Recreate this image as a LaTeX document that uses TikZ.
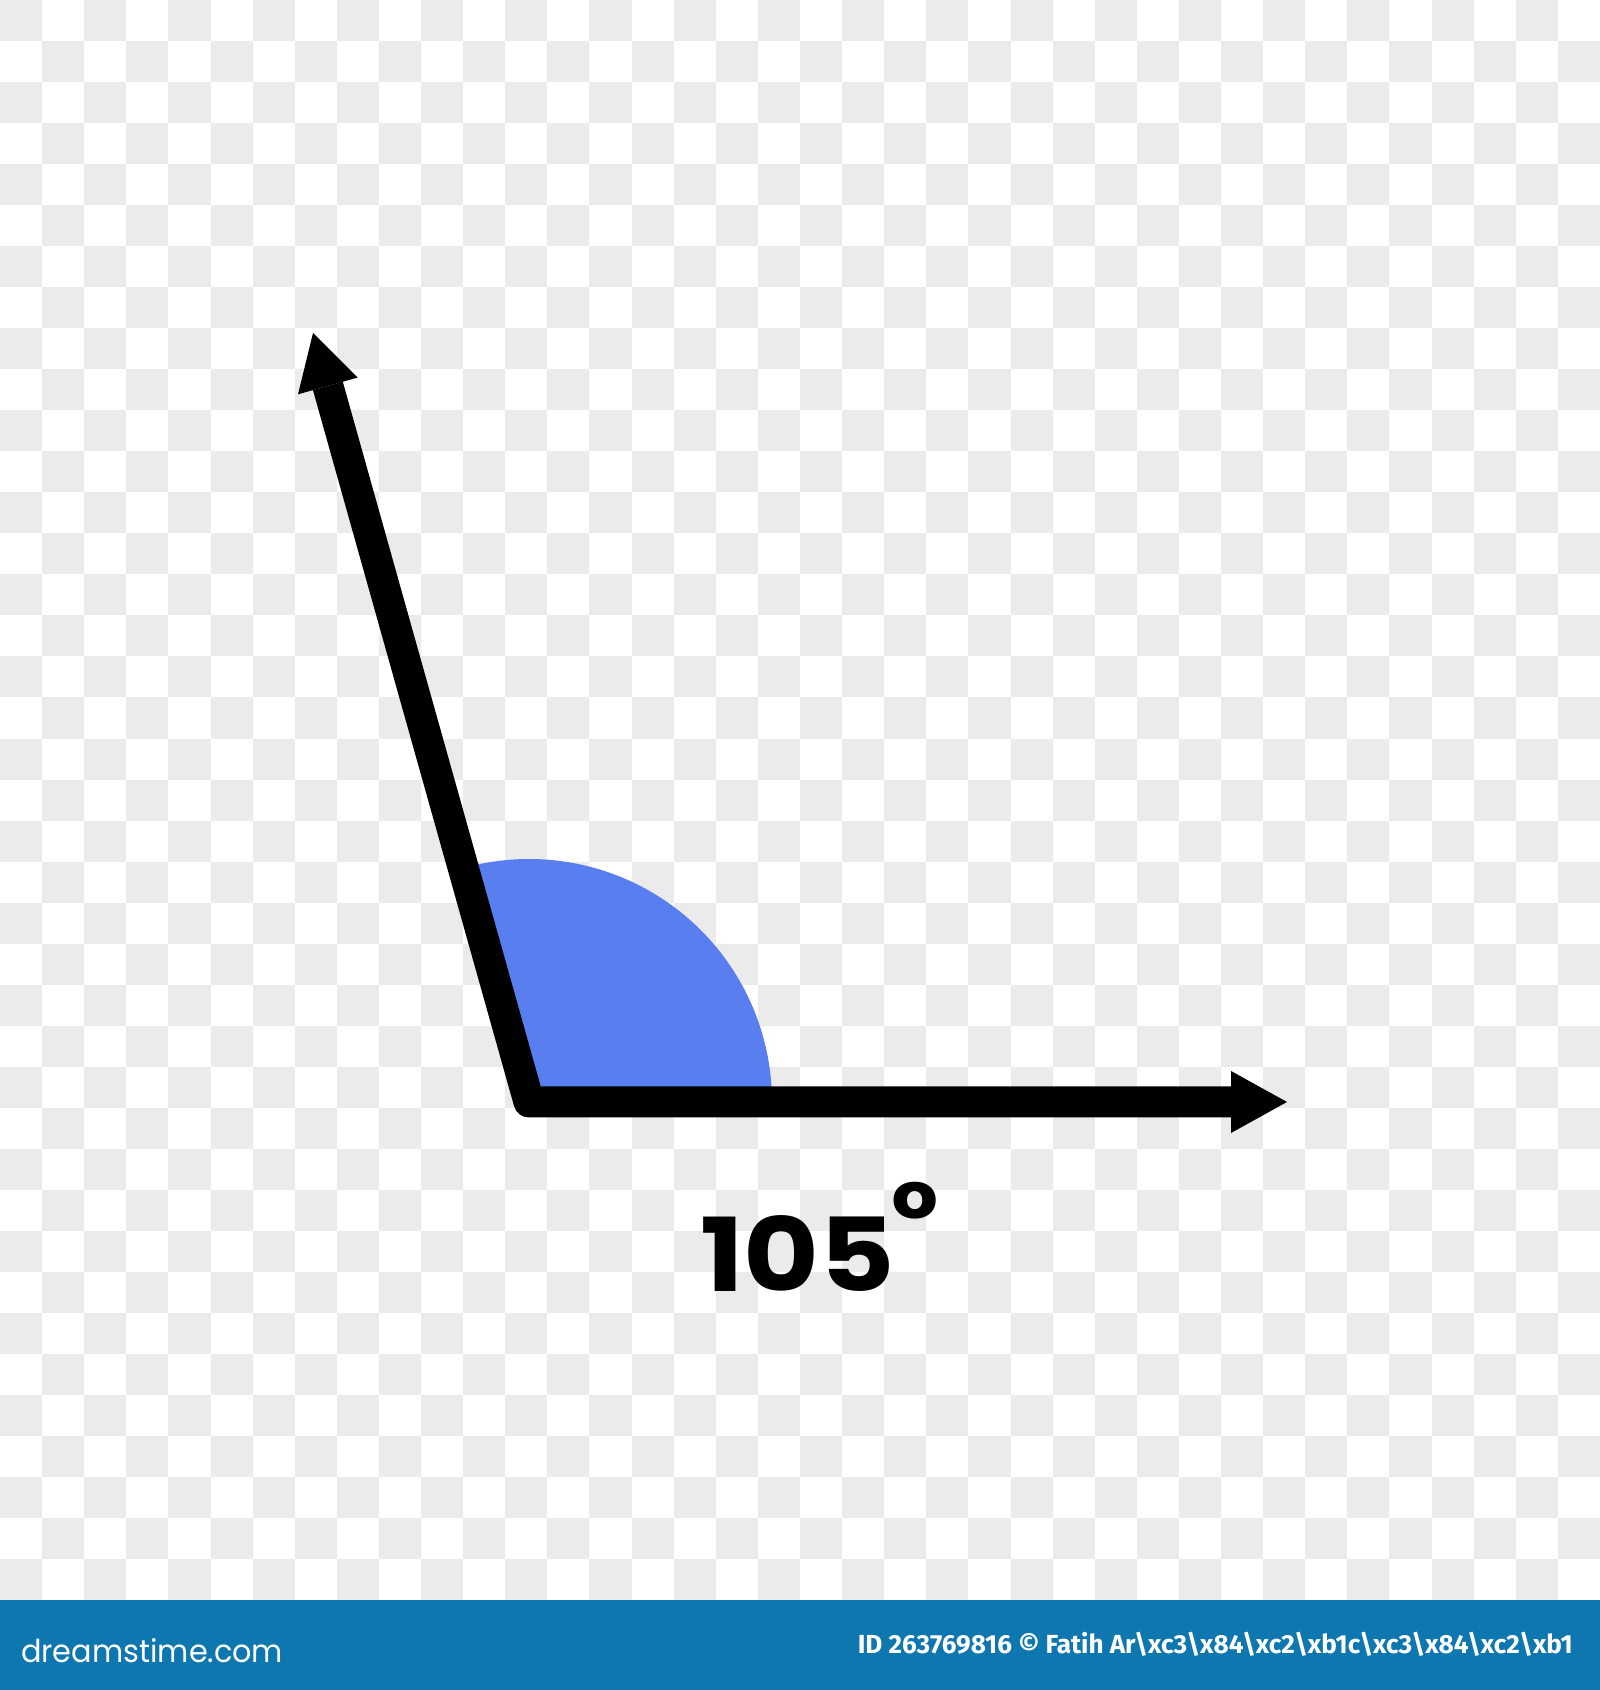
\documentclass[tikz,border=0pt]{standalone}
\usepackage{fontspec}
\usepackage{graphicx}
\usetikzlibrary{positioning, arrows.meta}
\newfontfamily\labelfont{Poppins}
\newfontfamily\footfont{Fira Sans}
\definecolor{checkgray}{RGB}{235,235,235}
\definecolor{anglefill}{RGB}{88,126,240}
\definecolor{barblue}{RGB}{15,119,176}

\begin{document}
\begin{tikzpicture}[x=1pt,y=1pt,
  ray/.style={line width=31pt,line join=round},
  degfont/.style={font=\labelfont\bfseries\fontsize{102}{102}\selectfont}]
\tikzstyle{every node}=[inner sep=0pt]
\useasboundingbox (0,0) rectangle (1600,1690);
\fill[white] (0,0) rectangle (1600,1690);
% checkerboard background
\foreach \i in {0,...,37}
  \foreach \j in {0,...,38}{
    \pgfmathtruncatemacro{\chk}{mod(\i+\j,2)}
    \ifnum\chk=0
      \fill[checkgray] (\i*42.105,1690-\j*41.03) rectangle ++(42.105,-41.03);
    \fi
  }

\coordinate (O) at (529,588);
\coordinate (A) at (313,1357);
\coordinate (B) at (1287,588);

\fill[anglefill] (O) -- ++(0:243) arc[start angle=0,end angle=105.7,radius=243] -- cycle;
\draw[ray, {Triangle[length=55pt,width=62pt,line width=0pt]}-{Triangle[length=56pt,width=62pt,line width=0pt]}] (A) -- (O) -- (B);

\node[degfont, anchor=base west] (lbl) at (700,398) {\scalebox{1.14}[1]{105}};
\node[degfont, anchor=north west] (deg) at ([xshift=-4pt,yshift=34pt]lbl.north east) {°};

% footer
\fill[barblue] (0,0) rectangle (1600,90);
\node[anchor=base west,text=white] (site) at (21,27) {\resizebox{262pt}{24pt}{\labelfont dreamstime.com}};
\node[anchor=base east,text=white] (credit) at (1573,36) {\resizebox{715pt}{!}{\footfont\bfseries ID 263769816 © Fatih Ar\textbackslash xc3\textbackslash x84\textbackslash xc2\textbackslash xb1c\textbackslash xc3\textbackslash x84\textbackslash xc2\textbackslash xb1}};
\end{tikzpicture}
\end{document}
